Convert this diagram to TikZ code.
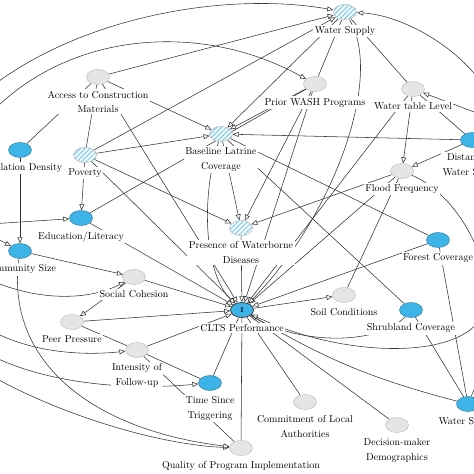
\documentclass[tikz,border=0pt]{standalone}
\usepackage{tikz}
\usetikzlibrary{arrows.meta, positioning, shapes.geometric, patterns.meta, backgrounds}
\definecolor{nodeblue}{HTML}{3DB4E8}
\definecolor{hatchblue}{HTML}{8ED2F1}

\begin{document}
\begin{tikzpicture}[x=1pt, y=-1pt,
  ell/.style={ellipse, minimum width=23pt, minimum height=15pt, inner sep=0pt},
  greynode/.style={ell, draw=gray!55, fill=gray!20},
  bluenode/.style={ell, draw=nodeblue!65!black, fill=nodeblue},
  hatchnode/.style={ell, draw=gray!70, preaction={fill=white},
    pattern={Lines[angle=45, distance=3.4pt, line width=1.4pt]}, pattern color=hatchblue},
  lbl/.style={fill=white, inner sep=1.5pt, align=center,
    font=\fontsize{10}{14.5}\selectfont},
  ln/.style={draw=black!80, line width=0.55pt},
  arr/.style={ln, -{Triangle[length=6pt, width=5pt, fill=white]}}]
  \useasboundingbox (0,0) rectangle (474,474);

  % variables
  \node[hatchnode] (ws)   at (345,12)  {};
  \node[greynode]  (acm)  at (98,77)   {};
  \node[greynode]  (pwp)  at (315,84)  {};
  \node[greynode]  (wtl)  at (413,89)  {};
  \node[bluenode]  (pd)   at (20,150)  {};
  \node[hatchnode] (pov)  at (85,155)  {};
  \node[hatchnode] (blc)  at (221,134) {};
  \node[bluenode]  (dw)   at (472,140) {};
  \node[greynode]  (ff)   at (402,171) {};
  \node[bluenode]  (edu)  at (81,218)  {};
  \node[hatchnode] (pwd)  at (241,228) {};
  \node[bluenode]  (fc)   at (438,240) {};
  \node[bluenode]  (cs)   at (20,251)  {};
  \node[greynode]  (sc)   at (134,277) {};
  \node[greynode]  (soil) at (344,295) {};
  \node[bluenode, draw=black!75, line width=0.8pt, font=\scriptsize\bfseries]
                   (clts) at (242,310) {I};
  \node[bluenode]  (shr)  at (411,310) {};
  \node[greynode]  (pp)   at (72,322)  {};
  \node[greynode]  (fol)  at (137,350) {};
  \node[bluenode]  (tst)  at (210,383) {};
  \node[greynode]  (cla)  at (305,402) {};
  \node[bluenode]  (wsr)  at (468,404) {};
  \node[greynode]  (dmd)  at (397,425) {};
  \node[greynode]  (qpi)  at (241,448) {};

  % labels under the ellipses
  \foreach \n/\t in {ws/{Water Supply}, acm/{Access to Construction\\Materials},
      pwp/{Prior WASH Programs}, wtl/{Water table Level}, pd/{Population Density},
      pov/{Poverty}, blc/{Baseline Latrine\\Coverage}, dw/{Distance to\\Water Source},
      ff/{Flood Frequency}, edu/{Education/Literacy},
      pwd/{Presence of Waterborne\\Diseases}, fc/{Forest Coverage},
      cs/{Community Size}, sc/{Social Cohesion}, soil/{Soil Conditions},
      clts/{CLTS Performance}, shr/{Shrubland Coverage}, pp/{Peer Pressure},
      fol/{Intensity of\\Follow-up}, tst/{Time Since\\Triggering},
      cla/{Commitment of Local\\Authorities}, wsr/{Water Source},
      dmd/{Decision-maker\\Demographics}, qpi/{Quality of Program Implementation}}
    \node[lbl, below=4.5pt of \n] (\n-l) {\t};

  % free ends outside the frame
  \coordinate (l1) at (-30,105);
  \coordinate (l2) at (-20,125);
  \coordinate (l3) at (-10,224);
  \coordinate (l4) at (-15,232);
  \coordinate (l5) at (-10,280);
  \coordinate (l6) at (-10,330);
  \coordinate (l7) at (-10,355);
  \coordinate (l8) at (-10,375);
  \coordinate (r1) at (490,95);
  \coordinate (r2) at (490,118);
  \coordinate (r3) at (490,352);

  \begin{scope}[on background layer]
    \fill[white] (0,0) rectangle (474,474);
    % influences with arrowheads
    \foreach \a/\b in {acm/ws, pov/ws, ws/blc, pwp/blc, acm/blc, pov/blc, dw/blc,
        pd/cs, pov/edu, pov/pwd, blc/pwd, pwp/pwd, ff/pwd, wtl/ff, dw/ff, cs/sc,
        sc/pp, clts/soil, acm/clts, pov/clts, edu/clts, sc/clts, pp/clts, fol/clts,
        pwd/clts, pwp/clts, wtl/clts, ff/clts, fc/clts, l3/edu, l4/cs, r2/wtl}
      \draw[arr] (\a) -- (\b);
    % plain links
    \foreach \a/\b in {acm/pov, pd/acm, pwp/edu, ws/pwp, ws/wtl, wtl/dw, blc/fc,
        blc/shr, ff/soil, fol/pp, fol/tst, fol/qpi, tst/clts, clts/qpi, clts/cla,
        clts/dmd, fc/wsr, shr/wsr, r3/wsr}
      \draw[ln] (\a) -- (\b);
    % curved links
    \draw[arr] (l1) .. controls (60,20) and (220,-10) .. (ws);
    \draw[arr] (l2) .. controls (60,30) and (200,20) .. (pwp);
    \draw[arr] (r1) .. controls (460,45) and (400,15) .. (ws);
    \draw[arr] (l5) .. controls (40,302) and (90,300) .. (sc);
    \draw[arr] (l6) .. controls (30,352) and (80,356) .. (fol);
    \draw[arr] (l7) .. controls (50,385) and (130,390) .. (tst);
    \draw[arr] (l8) .. controls (60,415) and (160,445) .. (qpi);
    \draw[arr] (cs) .. controls (5,360) and (90,430) .. (qpi);
    \draw[arr] (blc) .. controls (200,200) and (205,275) .. (clts);
    \draw[arr] (ws) .. controls (385,80) and (330,220) .. (clts);
    \draw[arr] (shr) .. controls (380,345) and (300,345) .. (clts);
    \draw[arr] (ff) .. controls (470,200) and (510,300) .. (470,330)
                    .. controls (430,360) and (330,352) .. (clts);
    \draw[ln] (clts) to[bend right=8] (wsr);
  \end{scope}
\end{tikzpicture}
\end{document}
